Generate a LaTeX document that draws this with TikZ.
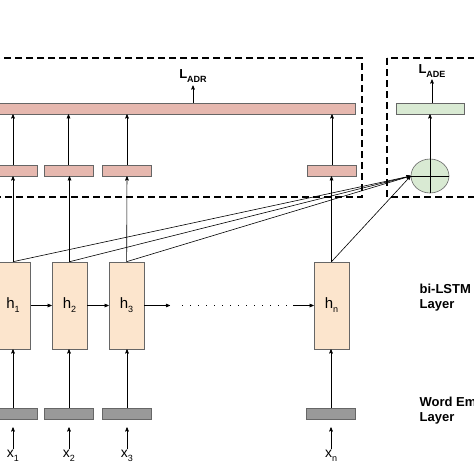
\documentclass[tikz,border=0pt]{standalone}
\usepackage{fontspec}
\setmainfont{Liberation Sans}
\usetikzlibrary{arrows,positioning,shapes.geometric}

\definecolor{rose}{HTML}{E6B8AF}
\definecolor{peach}{HTML}{FCE5CD}
\definecolor{mint}{HTML}{D9EAD3}
\definecolor{embgray}{HTML}{999999}
\definecolor{rim}{HTML}{666666}
\newcommand{\lo}[1]{\raisebox{-0.5ex}{\fontsize{9}{9}\selectfont #1}}

\begin{document}
\begin{tikzpicture}[x=1pt,y=-1pt,>=stealth',line width=0.6pt,
    hid/.style={draw=rim,fill=peach,minimum width=35pt,minimum height=87pt,inner sep=0pt,font=\fontsize{15}{15}\selectfont},
    emb/.style={draw=rim,fill=embgray,minimum width=49pt,minimum height=11pt,inner sep=0pt},
    bar/.style={draw=rim,fill=rose,minimum width=49pt,minimum height=11pt,inner sep=0pt},
    word/.style={font=\fontsize{14}{14}\selectfont,inner sep=1pt},
    loss/.style={font=\bfseries\fontsize{13}{13}\selectfont,inner sep=1pt},
    layer/.style={anchor=west,align=left,font=\bfseries\fontsize{13}{15}\selectfont},
    region/.style={dashed,dash pattern=on 7pt off 4pt,line width=1.4pt}]

  \useasboundingbox (0,0) rectangle (474,474);
  \clip (0,0) rectangle (474,474);

  % word embeddings
  \node[emb] (e1) at (13,413.5) {};
  \node[emb] (e2) at (69,413.5) {};
  \node[emb] (e3) at (127,413.5) {};
  \node[emb] (en) at (331,413.5) {};

  \node[word] (x1) at (13,456) {x\lo{1}};
  \node[word] (x2) at (69,456) {x\lo{2}};
  \node[word] (x3) at (127,456) {x\lo{3}};
  \node[word] (xn) at (331,456) {x\lo{n}};

  % bi-LSTM
  \node[hid] (h1) at (13,305.5) {h\lo{1}};
  \node[hid] (h2) at (69.5,305.5) {h\lo{2}};
  \node[hid] (h3) at (126.5,305.5) {h\lo{3}};
  \node[hid] (hn) at (331.5,305.5) {h\lo{n}};
  \coordinate (gap1) at (170,305.5);
  \coordinate (gap2) at (293,305.5);

  % ADR branch
  \node[bar] (p1) at (13,170.5) {};
  \node[bar] (p2) at (68.5,170.5) {};
  \node[bar] (p3) at (127,170.5) {};
  \node[bar] (pn) at (332,170.5) {};
  \node[draw=rim,fill=rose,minimum height=11pt,inner sep=0pt,minimum width=385pt] (adr) at (162.5,108.5) {};
  \node[loss] (ladr) at (193,76) {L\lo{ADR}};

  % ADE branch
  \node[draw=rim,fill=mint,ellipse,minimum width=38pt,minimum height=34pt,inner sep=0pt] (sum) at (430,176) {};
  \node[draw=rim,fill=mint,minimum width=68pt,minimum height=11pt,inner sep=0pt] (ade) at (430,108.5) {};
  \node[loss] (lade) at (432,71) {L\lo{ADE}};

  \node[layer] (lstm) at (416,298) {bi-LSTM Sequence\\Layer};
  \node[layer] (wemb) at (416,411) {Word Embedding\\Layer};

  \draw[region] (-10,58) rectangle (362,197);
  \draw[region] (387,58) rectangle (490,197);

  \draw (sum.north) -- (sum.south) (sum.west) -- (sum.east);

  \path[->]
    (x1) edge[shorten >=8pt] (e1)
    (x2) edge[shorten >=8pt] (e2)
    (x3) edge[shorten >=8pt] (e3)
    (xn) edge[shorten >=8pt] (en)
    (e1) edge (h1)
    (e2) edge (e2 |- h2.south)
    (e3) edge (e3 |- h3.south)
    (en) edge (en |- hn.south)
    (h1) edge (p1)
    (h2) edge (h2 |- p2.south)
    (h3) edge (p3)
    (hn) edge (hn |- pn.south)
    (p1) edge (p1 |- adr.south)
    (p2) edge (p2 |- adr.south)
    (p3) edge (p3 |- adr.south)
    (pn) edge (pn |- adr.south)
    (adr.north -| ladr) edge[shorten >=2pt] (ladr)
    (h1.north) edge (sum.west)
    (h2.north) edge (sum.west)
    (h3.north) edge (sum.west)
    (hn.north) edge (sum.west)
    (sum) edge (ade)
    (ade.north -| lade) edge[shorten >=1pt] (lade)
    (h1) edge (h2)
    (h2) edge (h3)
    (h3) edge (gap1)
    (gap2) edge (hn);

  \draw[dash pattern=on 1pt off 7pt,line width=1pt] (182,305.5) -- (290,305.5);

\end{tikzpicture}
\end{document}
